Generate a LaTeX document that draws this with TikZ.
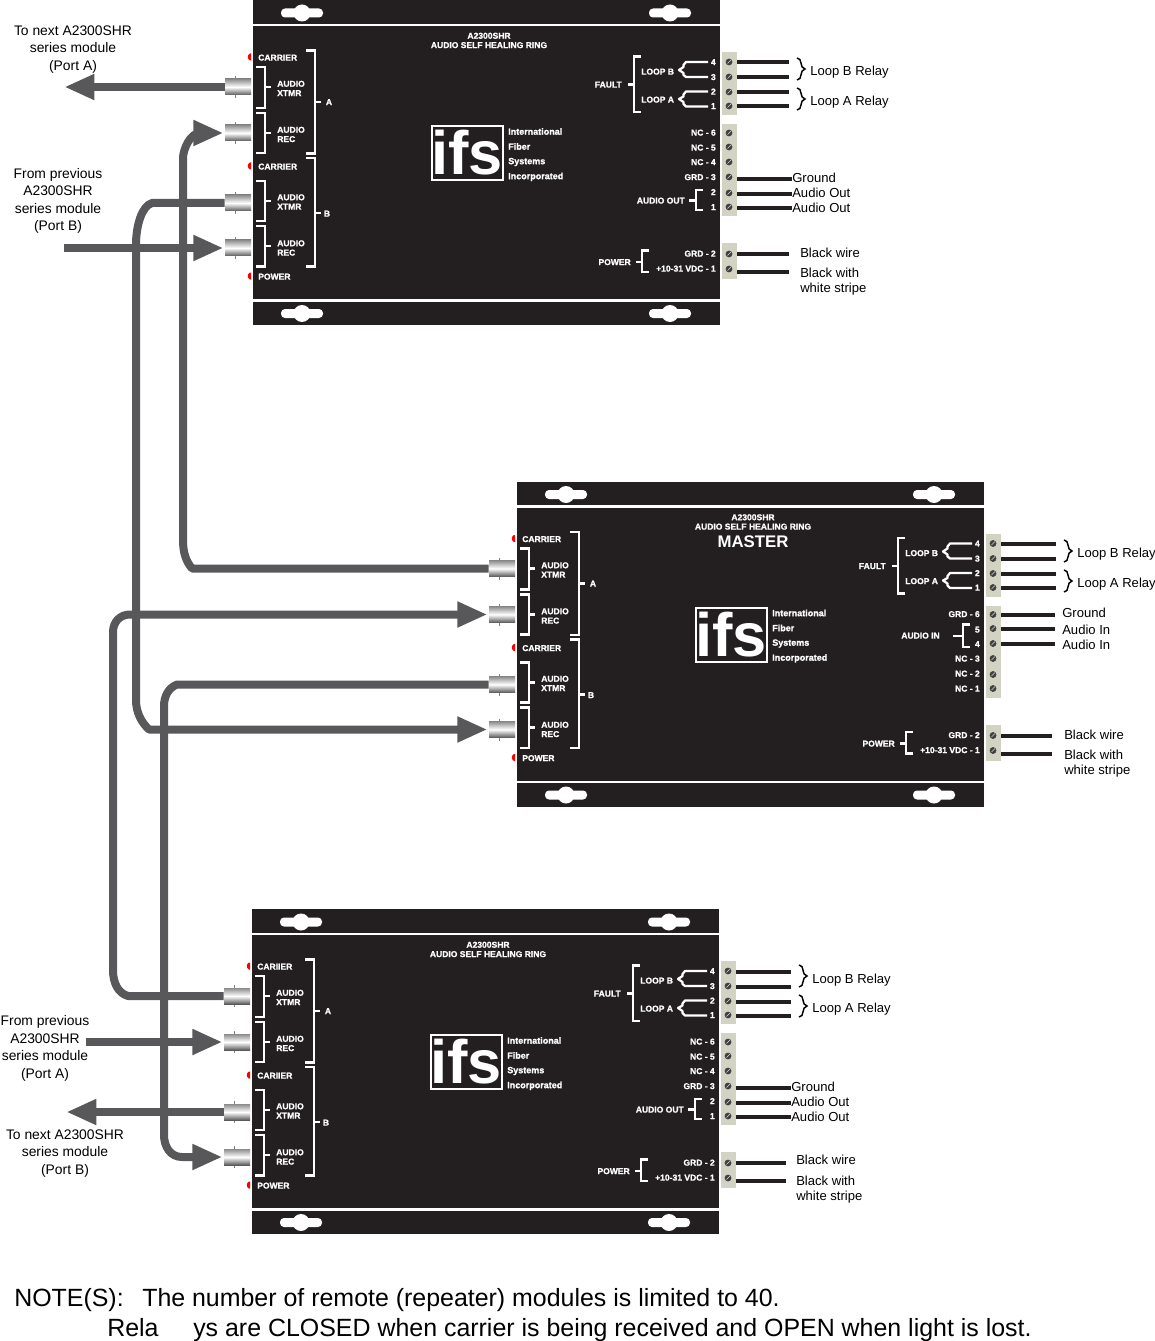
\documentclass[tikz,border=0pt]{standalone}
\usepackage{fontspec}
\setmainfont{Liberation Sans}
\newfontfamily\modfont[FakeBold=1.2]{Liberation Sans Bold}
\newfontfamily\logofont{Liberation Sans Bold}
\usetikzlibrary{arrows.meta}
\definecolor{panel}{HTML}{231F20}
\definecolor{cablegrey}{HTML}{58585A}
\definecolor{termblock}{HTML}{D3D3C3}
\tikzset{
  mtm/.style={font=\modfont\fontsize{6.4}{7}\selectfont,text=white,inner sep=0pt},
  mt/.style={mtm,text height=4.6pt,text depth=0pt},
  co/.style={font=\modfont\fontsize{6.75}{7}\selectfont,text=white,inner sep=0pt,anchor=west,text height=4.8pt,text depth=0pt},
  labbase/.style={font=\fontsize{9.8}{11.3}\selectfont,text=black,inner sep=0pt,align=left},
  lab/.style={labbase,anchor=west,text height=7.1pt,text depth=0pt},
  side/.style={font=\fontsize{10.4}{13.1}\selectfont,text=black,inner sep=0pt,align=center,anchor=north},
  whiteb/.style={draw=white,line width=2.1pt,line cap=butt,line join=miter},
  wire/.style={draw=panel,line width=3pt},
  cable/.style={draw=cablegrey,line width=6pt,line join=round},
  cablearrow/.style={cable,-{Triangle[length=22.5pt,width=18pt]},shorten >=1pt},
  bnc/.style={rectangle,minimum width=19.5pt,minimum height=12pt,inner sep=0pt,
     top color=gray!90,bottom color=black!65,middle color=white,shading angle=0},
  screw/.style={circle,fill=black!75,draw=black!75,minimum size=4.6pt,inner sep=0pt},
  holeslot/.style={fill=white,draw=none}
}
\newcommand\mslot[3]{% name x y
  \fill[holeslot,rounded corners=3pt] (#2-21,#3-4.5) rectangle (#2+21,#3+4.5);
  \fill[holeslot] (#2,#3) circle (8.5);
}
\newcommand\relaybrace[2]{%
  \begin{scope}[shift={(#1,#2)}]
  \draw[black,line width=1.1pt] (-4,-11) .. controls (2,-11) and (-2,-1) .. (4,0) .. controls (-2,1) and (2,11) .. (-4,11);
  \end{scope}}
% #1 prefix, #2 dx, #3 dy, #4 carrier word, #5 middle terminal labels
\newcommand\modulepanel[5]{%
\begin{scope}[shift={(#2,#3)}]
  \fill[panel] (253,0) rectangle (720,325);
  \draw[white,line width=1.6pt] (253,25) -- (720,25) (253,300.5) -- (720,300.5);
  \mslot{a}{302}{13}\mslot{b}{670}{13}\mslot{c}{302}{313.5}\mslot{d}{670}{313.5}
  % red LEDs
  \foreach \yy in {57,166,276}{\fill[red] (251,\yy-3.5) -- (250,\yy-3.5) .. controls (247,\yy-2) and (247,\yy+2) .. (250,\yy+3.5) -- (251,\yy+3.5) -- cycle;}
  % left labels
  \node[mt,anchor=west] (#1car1) at (258,57.5) {#4};
  \node[mt,anchor=west] (#1car2) at (258,166.5) {#4};
  \node[mt,anchor=west] (#1pow) at (258,276.5) {POWER};
  \node[mtm,anchor=north west,align=left] (#1x1) at (277,80.5) {AUDIO\\XTMR};
  \node[mtm,anchor=north west,align=left] (#1r1) at (277,126.5) {AUDIO\\REC};
  \node[mtm,anchor=north west,align=left] (#1x2) at (277,194) {AUDIO\\XTMR};
  \node[mtm,anchor=north west,align=left] (#1r2) at (277,240) {AUDIO\\REC};
  \node[mt,anchor=center] (#1A) at (329,102) {A};
  \node[mt,anchor=center] (#1B) at (327,213.5) {B};
  % left brackets
  \foreach \ya/\yb/\ym in {67/108/87,113/153/133,181/221/201,226/266.5/246}{
    \draw[whiteb] (256,\ya) -- (265,\ya) -- (265,\yb) -- (256,\yb) (265,\ym) -- (271,\ym);}
  \draw[whiteb] (306,50.5) -- (315,50.5) -- (315,153.5) -- (306,153.5) (315,102) -- (321,102);
  \draw[whiteb] (306,158) -- (315,158) -- (315,266.5) -- (306,266.5) (315,213) -- (321,213);
  % title
  \node[mtm,anchor=north,align=center] (#1title) at (489,32.5) {A2300SHR\\AUDIO SELF HEALING RING};
  % logo
  \draw[white,line width=1.5pt] (432,126) rectangle (503,180);
  \node[font=\logofont\fontsize{46}{46}\selectfont,text=white,inner sep=0pt,anchor=center] (#1ifs) at (467,153) {ifs};
  \node[co] (#1co1) at (508,131.5) {International};
  \node[co] (#1co2) at (508,146.5) {Fiber};
  \node[co] (#1co3) at (508,161) {Systems};
  \node[co] (#1co4) at (508,176) {Incorporated};
  % terminal blocks
  \fill[termblock] (722,52) rectangle (737,115);
  \fill[termblock] (722,124) rectangle (737,216);
  \fill[termblock] (722,243) rectangle (737,279);
  \foreach \n/\yy in {1/62,2/77,3/92,4/106,5/133,6/147,7/162,8/177,9/193,10/207,11/254,12/269}{
    \node[screw] (#1s\n) at (729,\yy) {};
    \draw[white!85!black,line width=.4pt] (727.5,\yy+1.5) -- (731,\yy-2);
    \coordinate (#1t\n) at (737,\yy);
  }
  % fault block
  \node[mt,anchor=east] (#1n4) at (716,62) {4};
  \node[mt,anchor=east] (#1n3) at (716,77) {3};
  \node[mt,anchor=east] (#1n2) at (716,91.5) {2};
  \node[mt,anchor=east] (#1n1) at (716,106) {1};
  \node[mt,anchor=west] (#1lb) at (641,71.5) {LOOP B};
  \node[mt,anchor=west] (#1la) at (641,99.5) {LOOP A};
  \node[mt,anchor=east] (#1fault) at (622,84.5) {FAULT};
  \draw[whiteb] (641,56.5) -- (634,56.5) -- (634,112) -- (641,112) (634,84.5) -- (628,84.5);
  \draw[white,line width=1.7pt,line join=round] (708,62) -- (686,62) -- (683.5,65) -- (683.5,67) -- (679,70) -- (683.5,73) -- (683.5,75) -- (686,77) -- (708,77);
  \draw[white,line width=1.7pt,line join=round] (708,91.5) -- (686,91.5) -- (683.5,94.5) -- (683.5,96.5) -- (679,99) -- (683.5,102) -- (683.5,104) -- (686,106.5) -- (708,106.5);
  #5
  % power
  \node[mt,anchor=east] (#1pg) at (716,253.5) {GRD - 2};
  \node[mt,anchor=east] (#1pv) at (716,268.5) {+10-31 VDC - 1};
  \node[mt,anchor=east] (#1pw) at (631,262) {POWER};
  \draw[whiteb] (649,250.5) -- (642,250.5) -- (642,272) -- (649,272) (642,262) -- (636,262);
  % connectors
  \foreach \n/\yy in {1/87,2/133,3/203,4/248}{
    \draw[gray,line width=.5pt] (235.5,\yy-11) -- (235.5,\yy+11);
    \node[bnc] (#1c\n) at (238,\yy) {};
  }
\end{scope}}
\newcommand\remotemid[1]{%
  \node[mt,anchor=east] (#1q6) at (716,132.5) {NC - 6};
  \node[mt,anchor=east] (#1q5) at (716,147.5) {NC - 5};
  \node[mt,anchor=east] (#1q4) at (716,162) {NC - 4};
  \node[mt,anchor=east] (#1q3) at (716,177) {GRD - 3};
  \node[mt,anchor=east] (#1q2) at (716,192) {2};
  \node[mt,anchor=east] (#1q1) at (716,207) {1};
  \node[mt,anchor=east] (#1ao) at (685,200.5) {AUDIO OUT};
  \draw[whiteb] (703,190) -- (696,190) -- (696,210) -- (703,210) (696,200.5) -- (689,200.5);
}
\newcommand\mastermid[1]{%
  \node[mt,anchor=east] (#1q6) at (716,132.5) {GRD - 6};
  \node[mt,anchor=east] (#1q5) at (716,148) {5};
  \node[mt,anchor=east] (#1q4) at (716,162.5) {4};
  \node[mt,anchor=east] (#1q3) at (716,177) {NC - 3};
  \node[mt,anchor=east] (#1q2) at (716,192) {NC - 2};
  \node[mt,anchor=east] (#1q1) at (716,207) {NC - 1};
  \node[mt,anchor=east] (#1ai) at (676,154) {AUDIO IN};
  \draw[whiteb] (706,143) -- (699,143) -- (699,165.5) -- (706,165.5) (699,154.5) -- (689,154.5);
  \node[font=\logofont\fontsize{12.6}{13}\selectfont,text=white,inner sep=0pt] (#1master) at (489,60.5) {MASTER};
}
\begin{document}
\begin{tikzpicture}[x=.75pt,y=-.75pt]
\useasboundingbox (0,0) rectangle (1155,1341);
\modulepanel{a}{0}{0}{CARRIER}{\remotemid{a}}
\modulepanel{b}{264}{481.5}{CARRIER}{\mastermid{b}}
\modulepanel{c}{-1}{909}{CARIIER}{\remotemid{c}}

% wires module a
\foreach \n in {1,2,3,4}{\draw[wire] (at\n) ++(0,.5) -- ++(52,0);}
\foreach \n/\d in {8/2,9/1,10/1}{\draw[wire] (at\n) ++(0,\d) -- ++(55,0);}
\draw[wire] (at11) -- ++(52,0);
\draw[wire] (at12) ++(0,3) -- ++(52,0);
\relaybrace{801}{69}\relaybrace{801}{99}
\node[lab] (l1) at (810,71) {Loop B Relay};
\node[lab] (l2) at (810,101) {Loop A Relay};
\node[lab] (l3) at (792,178) {Ground};
\node[lab] (l4) at (792,193) {Audio Out};
\node[lab] (l5) at (792,208) {Audio Out};
\node[lab] (l6) at (800,253) {Black wire};
\node[labbase,anchor=north west] (l7) at (800,268) {Black with\\white stripe};

% wires master
\foreach \n in {1,2,3,4}{\draw[wire] (bt\n) ++(0,.5) -- ++(55,0);}
\foreach \n/\d in {5/0,6/0.5,7/0.5}{\draw[wire] (bt\n) ++(0,\d) -- ++(54,0);}
\draw[wire] (bt11) -- ++(51,0);
\draw[wire] (bt12) ++(0,3.5) -- ++(51,0);
\relaybrace{1068}{551}\relaybrace{1068}{581}
\node[lab] (l8) at (1077,553) {Loop B Relay};
\node[lab] (l9) at (1077,583) {Loop A Relay};
\node[lab] (l10) at (1062,613) {Ground};
\node[lab] (l11) at (1062,630) {Audio In};
\node[lab] (l12) at (1062,645) {Audio In};
\node[lab] (l13) at (1064,735) {Black wire};
\node[labbase,anchor=north west] (l14) at (1064,750) {Black with\\white stripe};

% wires module c
\foreach \n in {1,2,3,4}{\draw[wire] (ct\n) ++(0,.5) -- ++(55,0);}
\foreach \n/\d in {8/2,9/1,10/1}{\draw[wire] (ct\n) ++(0,\d) -- ++(55,0);}
\draw[wire] (ct11) -- ++(50,0);
\draw[wire] (ct12) ++(0,3) -- ++(50,0);
\relaybrace{803}{976}\relaybrace{803}{1006}
\node[lab] (l15) at (812,979) {Loop B Relay};
\node[lab] (l16) at (812,1008) {Loop A Relay};
\node[lab] (l17) at (791,1087) {Ground};
\node[lab] (l18) at (791,1102) {Audio Out};
\node[lab] (l19) at (791,1117) {Audio Out};
\node[lab] (l20) at (796,1160) {Black wire};
\node[labbase,anchor=north west] (l21) at (796,1175.5) {Black with\\white stripe};

% side labels
\node[side] (s1) at (73,25.5) {To next A2300SHR\\series module\\(Port A)};
\node[side] (s2) at (58,168) {From previous\\A2300SHR\\series module\\(Port B)};
\node[side] (s3) at (45,1015.5) {From previous\\A2300SHR\\series module\\(Port A)};
\node[side] (s4) at (65,1129.5) {To next A2300SHR\\series module\\(Port B)};

% cables
\coordinate (outA) at (63,87);
\coordinate (inB) at (64,248);
\coordinate (inA) at (86,1042);
\coordinate (outB) at (65,1112);
\draw[cablearrow] (ac1.west) -- (outA);
\draw[cablearrow] (inB) -- (ac4.west);
\draw[cablearrow] (inA) -- (cc2.west);
\draw[cablearrow] (cc3.west) -- (outB);
\draw[cablearrow] (bc1.west) -- (192,568.5) .. controls (186,561) and (183,553) .. (183,540) -- (183,158) .. controls (183,150) and (190,133) .. (200,133) -- (ac2.west);
\draw[cablearrow] (ac3.west) -- (152,203) .. controls (142,206) and (136,225) .. (136,245) -- (136,700) .. controls (136,712) and (141,722) .. (149,729.5) -- (bc4.west);
\draw[cablearrow] (cc1.west) -- (128,996) .. controls (118,993) and (113,983) .. (113,970) -- (113,632) .. controls (113,622) and (120,614.5) .. (130,614.5) -- (bc2.west);
\draw[cablearrow] (bc3.west) -- (177,684.5) .. controls (168,688) and (164,697) .. (164,706) -- (164,1135) .. controls (164,1146) and (170,1157) .. (182,1157) -- (cc4.west);

% note
\tikzset{notetxt/.style={font=\fontsize{18.7}{20}\selectfont,inner sep=0pt,anchor=base west}}
\node[notetxt] (n1) at (14,1306) {NOTE(S):};
\node[notetxt] (n2) at (142,1306) {The number of remote (repeater) modules is limited to 40.};
\node[notetxt] (n3) at (107,1336) {Rela};
\node[notetxt] (n4) at (193,1336) {ys are CLOSED when carrier is being received and OPEN when light is lost.};
\end{tikzpicture}
\end{document}
